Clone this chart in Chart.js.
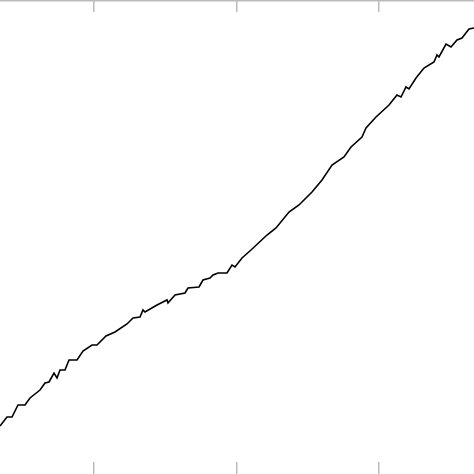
<!DOCTYPE html><html><head><meta charset="utf-8">
<script src="https://cdn.jsdelivr.net/npm/chart.js@4"></script>
<style>html,body{margin:0;padding:0;background:#fff}#w{width:474px;height:474px}</style></head><body>
<div id="w"><canvas id="c"></canvas></div>
<script>
const xValues=[0,7,12,18,25,30,40,45,49,54,57,60,65,69,77,83,92,97,106,115,127,133,140,143,145,157,167,168,175,185,188,199,203,210,213,218,227,232,235,242,251,267,276,289,299,312,322,332,344,351,362,366,376,389,397,401,406,409,416,424,434,437,439,446,451,457,462,469,474];
const yPix=[426,417,417,405,405,398,390,383,382,373,378,370,370,360,360,351,345,345,336,332,324,318,317,310,312,305,300,303,295,293,288,287,280,278,275,273,273,265,267,258,250,235,228,212,205,192,180,165,157,147,137,128,117,105,95,97,87,89,78,68,62,55,57,44,47,40,38,29,28];
const yValues=yPix.map(p=>474-p);
const tickValues=[94,237,379];
const pts=xValues.map((x,i)=>({x:x,y:yValues[i]}));
const frame={id:'frame',afterDraw(ch){const c=ch.ctx;c.save();c.strokeStyle='#bbb';c.lineWidth=1.5;c.beginPath();c.moveTo(0,0.75);c.lineTo(474,0.75);c.stroke();c.restore();}};
const axisCommon={type:'linear',min:0,max:474,afterBuildTicks:a=>{a.ticks=tickValues.map(v=>({value:v}));},ticks:{display:false},grid:{drawOnChartArea:false,tickLength:12,color:'#bbb',lineWidth:1.5},border:{display:false}};
new Chart(document.getElementById('c'),{type:'line',data:{datasets:[{data:pts,borderColor:'#000',borderWidth:1.6,pointRadius:0,tension:0,xAxisID:'x',yAxisID:'y'}]},
options:{responsive:true,maintainAspectRatio:false,animation:false,layout:{padding:0},plugins:{legend:{display:false},tooltip:{enabled:false}},
scales:{x:Object.assign({},axisCommon,{position:'bottom'}),x2:Object.assign({},axisCommon,{position:'top'}),y:{type:'linear',min:12,max:462,display:false}}},plugins:[frame]});
</script></body></html>
